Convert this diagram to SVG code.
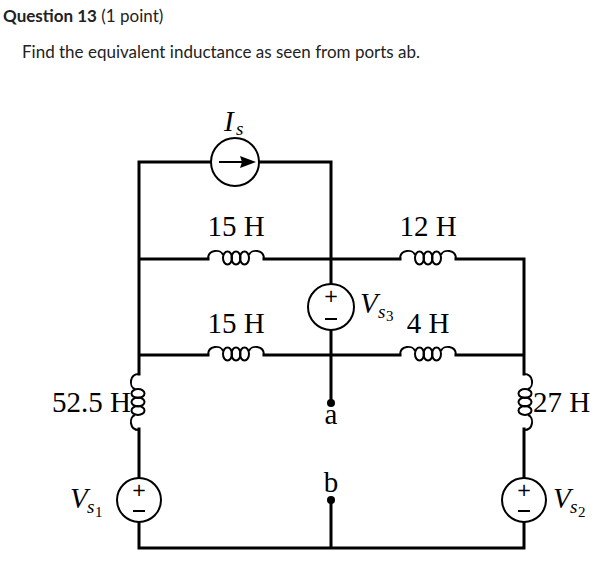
<svg xmlns="http://www.w3.org/2000/svg" width="608" height="564" viewBox="0 0 608 564">
<style>
.w{stroke:#000;stroke-width:3;fill:none;stroke-linecap:square}
.c{stroke:#000;stroke-width:2;fill:#fff}
.l{stroke:#000;stroke-width:2;fill:none}
.t{font-family:"Liberation Serif",serif;font-size:29px;fill:#000}
.i{font-style:italic}
.s{font-family:"Liberation Serif",serif;font-size:19px;font-style:italic}
.d{font-family:"Liberation Serif",serif;font-size:15px}
.h{font-family:Lato,sans-serif;fill:#222}
</style>
<defs>
<g id="ind"><path class="l" d="M0 0 C0 -10 13 -10 15 -4 M41 -4 C43 -10 56 -10 56 0"/><ellipse class="l" cx="19.5" cy="-1" rx="4.5" ry="6.5"/><ellipse class="l" cx="28" cy="-1" rx="4.5" ry="6.5"/><ellipse class="l" cx="36.5" cy="-1" rx="4.5" ry="6.5"/></g>
</defs>
<rect width="608" height="564" fill="#fff"/>
<text class="h" x="3" y="22" font-size="17"><tspan font-weight="bold">Question 13</tspan> (1 point)</text>
<text class="h" x="22" y="58" font-size="17">Find the equivalent inductance as seen from ports ab.</text>
<g id="connectors">
<path class="w" d="M139 162 H211 M259 162 H331 V284 M331 330 V403 M139 162 V374 M139 429 V478 M139 522 V548 H524 V522 M524 478 V429 M524 374 V259 M139 259 H208 M264 259 H400 M456 259 H524 M139 355 H208 M264 355 H400 M456 355 H524 M331 500 V548"/>
</g>
<g id="Is"><circle class="c" cx="235" cy="162" r="24"/><path d="M219 162 H245" class="l" stroke-width="2.5"/><path d="M256 162 L240 156 L242 162 L240 168 Z"/><text class="t i" x="224" y="131">I</text><text class="s" x="236" y="135">s</text></g>
<g id="L15a"><use href="#ind" x="208" y="259"/><text class="t" x="236" y="236" text-anchor="middle">15 H</text></g>
<g id="L12"><use href="#ind" x="400" y="259"/><text class="t" x="428" y="236" text-anchor="middle">12 H</text></g>
<g id="L15b"><use href="#ind" x="208" y="355"/><text class="t" x="236" y="333" text-anchor="middle">15 H</text></g>
<g id="L4"><use href="#ind" x="400" y="355"/><text class="t" x="428" y="333" text-anchor="middle">4 H</text></g>
<g id="Vs3"><circle class="c" cx="331" cy="307" r="23"/><text x="331" y="302" font-family="DejaVu Sans" font-size="18" text-anchor="middle">+</text><path class="l" d="M325 319 H337" stroke-width="1.3"/><text class="t i" x="360" y="313">V</text><text class="s" x="378" y="318">s</text><text class="d" x="386" y="321">3</text></g>
<g id="L52"><use href="#ind" transform="translate(139 374) rotate(90) scale(1 -1)"/><text class="t" x="131" y="412" text-anchor="end">52.5 H</text></g>
<g id="L27"><use href="#ind" transform="translate(524 374) rotate(90)"/><text class="t" x="533" y="412">27 H</text></g>
<g id="Vs1"><circle class="c" cx="139" cy="500" r="22"/><text x="139" y="496" font-family="DejaVu Sans" font-size="18" text-anchor="middle">+</text><path class="l" d="M133 511 H145" stroke-width="1.3"/><text class="t i" x="70" y="508">V</text><text class="s" x="87" y="513">s</text><text class="d" x="95" y="517">1</text></g>
<g id="Vs2"><circle class="c" cx="524" cy="500" r="22"/><text x="524" y="496" font-family="DejaVu Sans" font-size="18" text-anchor="middle">+</text><path class="l" d="M518 511 H530" stroke-width="1.3"/><text class="t i" x="553" y="508">V</text><text class="s" x="570" y="513">s</text><text class="d" x="578" y="517">2</text></g>
<g id="a"><circle cx="331" cy="403" r="4"/><text class="t" x="331" y="424" text-anchor="middle">a</text></g>
<g id="b"><circle cx="331" cy="500" r="4"/><text class="t" x="331" y="492" text-anchor="middle">b</text></g>
</svg>
